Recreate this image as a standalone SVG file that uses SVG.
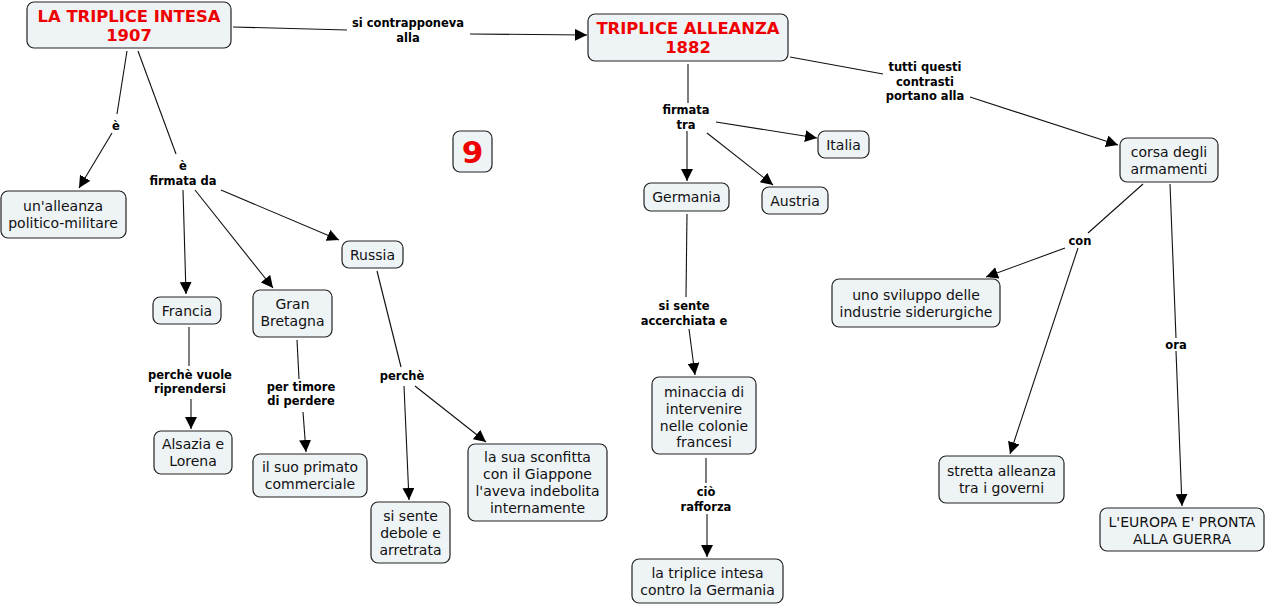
<svg xmlns="http://www.w3.org/2000/svg" width="1268" height="605" viewBox="0 0 1268 605">
<style>
.n rect{fill:#eef3f6;stroke:#222;stroke-width:1.2}
.n text{font-family:"DejaVu Sans",Verdana,sans-serif;font-size:14px;fill:#111;text-anchor:middle}
.n text.t{font-weight:bold;font-size:16.4px;fill:#ee0000}
.n text.nine{font-weight:bold;font-size:31px;fill:#ee0000}
.l text{font-family:"DejaVu Sans",Verdana,sans-serif;font-size:11.5px;font-weight:bold;fill:#000;text-anchor:middle}
#connectors line{stroke:#111;stroke-width:1.1;fill:none}
#connectors line.a{marker-end:url(#ah)}
</style>
<defs>
<marker id="ah" markerUnits="userSpaceOnUse" markerWidth="14" markerHeight="12" refX="12" refY="6" orient="auto" viewBox="0 0 14 12">
<path d="M0,0 L12,6 L0,12 z" fill="#000"/>
</marker>
</defs>
<rect width="1268" height="605" fill="#fff"/>
<g id="connectors">
<line x1="233" y1="27" x2="347" y2="30"/>
<line class="a" x1="470" y1="34" x2="587" y2="35"/>
<line x1="127" y1="51" x2="117" y2="114"/>
<line class="a" x1="112" y1="133" x2="79" y2="188"/>
<line x1="138" y1="51" x2="176" y2="154"/>
<line class="a" x1="183" y1="190" x2="186" y2="294"/>
<line class="a" x1="195" y1="190" x2="273" y2="288"/>
<line class="a" x1="221" y1="190" x2="339" y2="240"/>
<line x1="189" y1="327" x2="189" y2="366"/>
<line class="a" x1="191" y1="399" x2="191" y2="429"/>
<line x1="297" y1="340" x2="299" y2="379"/>
<line class="a" x1="303" y1="412" x2="306" y2="452"/>
<line x1="377" y1="271" x2="401" y2="367"/>
<line class="a" x1="404" y1="386" x2="409" y2="500"/>
<line class="a" x1="415" y1="386" x2="486" y2="442"/>
<line x1="688" y1="64" x2="688" y2="103"/>
<line class="a" x1="687" y1="131" x2="687" y2="181"/>
<line class="a" x1="716" y1="122" x2="817" y2="138"/>
<line class="a" x1="707" y1="133" x2="773" y2="185"/>
<line x1="790" y1="57" x2="883" y2="74"/>
<line class="a" x1="970" y1="97" x2="1118" y2="145"/>
<line x1="687" y1="214" x2="686" y2="297"/>
<line class="a" x1="689" y1="329" x2="695" y2="375"/>
<line x1="706" y1="458" x2="706" y2="483"/>
<line class="a" x1="707" y1="514" x2="707" y2="557"/>
<line x1="1143" y1="184" x2="1088" y2="233"/>
<line class="a" x1="1065" y1="248" x2="986" y2="277"/>
<line class="a" x1="1078" y1="248" x2="1010" y2="454"/>
<line x1="1170" y1="184" x2="1176" y2="338"/>
<line class="a" x1="1176" y1="351" x2="1182" y2="506"/>
</g>
<g class="l" id="labels">
<text x="408" y="27">si contrapponeva<tspan x="408" y="42">alla</tspan></text>
<text x="116" y="130">è</text>
<text x="183" y="170">è<tspan x="183" y="185">firmata da</tspan></text>
<text x="686" y="114">firmata<tspan x="686" y="129">tra</tspan></text>
<text x="925" y="71">tutti questi<tspan x="925" y="86">contrasti</tspan><tspan x="925" y="100">portano alla</tspan></text>
<text x="190" y="379">perchè vuole<tspan x="190" y="393">riprendersi</tspan></text>
<text x="301" y="391">per timore<tspan x="301" y="405">di perdere</tspan></text>
<text x="402" y="380">perchè</text>
<text x="684" y="310">si sente<tspan x="684" y="325">accerchiata e</tspan></text>
<text x="706" y="496">ciò<tspan x="706" y="511">rafforza</tspan></text>
<text x="1080" y="245">con</text>
<text x="1176" y="349">ora</text>
</g>
<g class="n" id="n-intesa"><rect x="27" y="2" width="204" height="46" rx="7"/><text class="t" x="129" y="22">LA TRIPLICE INTESA<tspan x="129" y="41">1907</tspan></text></g>
<g class="n" id="n-alleanza"><rect x="588" y="14" width="200" height="47" rx="7"/><text class="t" x="688" y="34">TRIPLICE ALLEANZA<tspan x="688" y="53">1882</tspan></text></g>
<g class="n" id="n-nine"><rect x="453" y="131" width="39" height="41" rx="7"/><text class="nine" x="472.5" y="163">9</text></g>
<g class="n" id="n-politico"><rect x="1" y="191" width="125" height="47" rx="7"/><text x="63" y="211">un'alleanza<tspan x="63" y="228">politico-militare</tspan></text></g>
<g class="n" id="n-francia"><rect x="153" y="297" width="68" height="27" rx="7"/><text x="187" y="316">Francia</text></g>
<g class="n" id="n-gb"><rect x="253" y="290" width="79" height="47" rx="7"/><text x="292.5" y="309">Gran<tspan x="292.5" y="326">Bretagna</tspan></text></g>
<g class="n" id="n-russia"><rect x="342" y="241" width="61" height="27" rx="7"/><text x="372.5" y="259.5">Russia</text></g>
<g class="n" id="n-alsazia"><rect x="154" y="431" width="78" height="43" rx="7"/><text x="193" y="449">Alsazia e<tspan x="193" y="466">Lorena</tspan></text></g>
<g class="n" id="n-primato"><rect x="253" y="454" width="114" height="43" rx="7"/><text x="310" y="472">il suo primato<tspan x="310" y="489">commerciale</tspan></text></g>
<g class="n" id="n-debole"><rect x="371" y="502" width="79" height="61" rx="7"/><text x="410.5" y="520.5">si sente<tspan x="410.5" y="537.5">debole e</tspan><tspan x="410.5" y="554.5">arretrata</tspan></text></g>
<g class="n" id="n-sconfitta"><rect x="468" y="444" width="139" height="77" rx="7"/><text x="537.5" y="462">la sua sconfitta<tspan x="537.5" y="479">con il Giappone</tspan><tspan x="537.5" y="496">l'aveva indebolita</tspan><tspan x="537.5" y="513">internamente</tspan></text></g>
<g class="n" id="n-italia"><rect x="818" y="131" width="51" height="27" rx="7"/><text x="843.5" y="149.5">Italia</text></g>
<g class="n" id="n-germania"><rect x="644" y="183" width="85" height="28" rx="7"/><text x="686.5" y="202">Germania</text></g>
<g class="n" id="n-austria"><rect x="762" y="187" width="66" height="27" rx="7"/><text x="795" y="205.5">Austria</text></g>
<g class="n" id="n-corsa"><rect x="1120" y="138" width="98" height="44" rx="7"/><text x="1169" y="157">corsa degli<tspan x="1169" y="174">armamenti</tspan></text></g>
<g class="n" id="n-sviluppo"><rect x="832" y="279" width="168" height="48" rx="7"/><text x="916" y="299.5">uno sviluppo delle<tspan x="916" y="316.5">industrie siderurgiche</tspan></text></g>
<g class="n" id="n-minaccia"><rect x="652" y="377" width="104" height="77" rx="7"/><text x="704" y="396.5">minaccia di<tspan x="704" y="413.5">intervenire</tspan><tspan x="704" y="430.5">nelle colonie</tspan><tspan x="704" y="447">francesi</tspan></text></g>
<g class="n" id="n-triplice"><rect x="632" y="559" width="151" height="44" rx="7"/><text x="707.5" y="578">la triplice intesa<tspan x="707.5" y="595">contro la Germania</tspan></text></g>
<g class="n" id="n-stretta"><rect x="939" y="456" width="125" height="47" rx="7"/><text x="1001.5" y="476">stretta alleanza<tspan x="1001.5" y="493">tra i governi</tspan></text></g>
<g class="n" id="n-europa"><rect x="1100" y="508" width="164" height="43" rx="7"/><text x="1182" y="527">L'EUROPA E' PRONTA<tspan x="1182" y="544">ALLA GUERRA</tspan></text></g>
</svg>
